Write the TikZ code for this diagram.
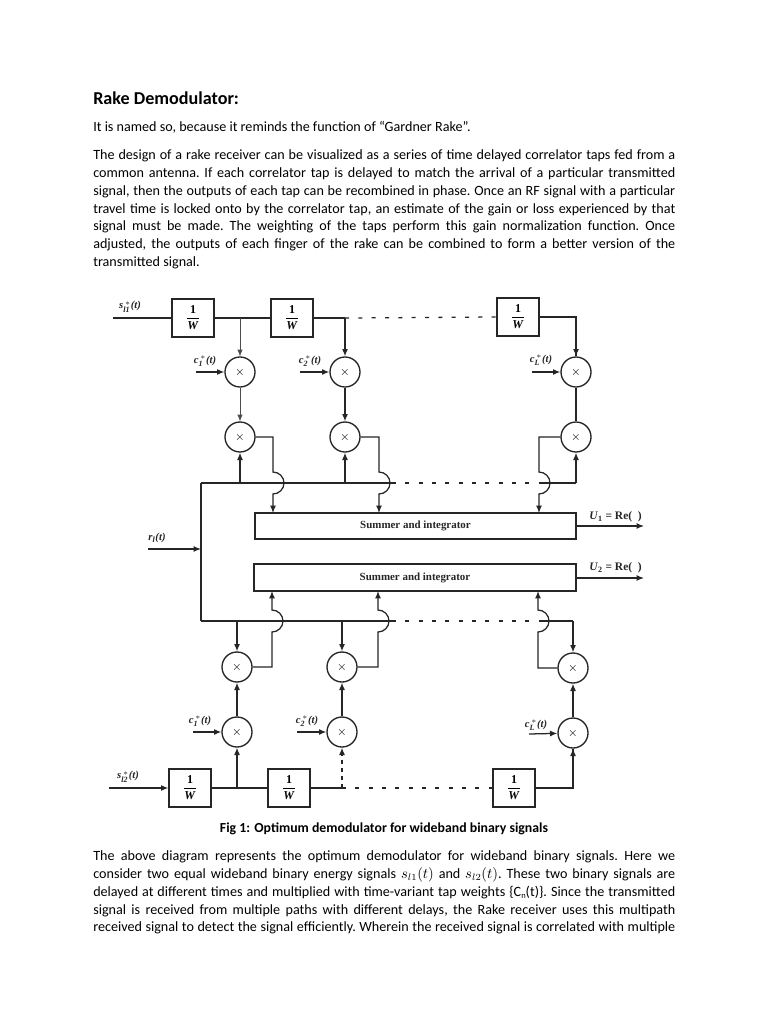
\documentclass[tikz,border=0pt]{standalone}
\usepackage{amsmath}
\usepackage{fontspec}
\setmainfont{Carlito}
\newfontfamily\scanfont{Liberation Serif}
\usetikzlibrary{arrows.meta}
\tikzset{
  x=0.75pt,y=-0.75pt,
  wire/.style={line width=0.95pt,draw=black!85},
  thinwire/.style={line width=0.5pt,draw=black!70,-{Latex[length=5pt,width=4pt]}},
  arr/.style={wire,-{Latex[length=5.5pt,width=4.5pt]}},
  dotted wire/.style={wire,dash pattern=on 3pt off 7pt},
  delay/.style={draw=black!85,line width=1pt,minimum width=31.5pt,minimum height=28.5pt,inner sep=0pt,font=\scanfont\bfseries\fontsize{9}{10}\selectfont},
  mult/.style={circle,draw=black!85,line width=1pt,minimum size=22.5pt,inner sep=0pt,font=\scanfont\fontsize{9}{9}\selectfont},
  summer/.style={draw=black!85,line width=1pt,inner sep=0pt,font=\scanfont\bfseries\fontsize{8.2}{9}\selectfont,text=black!85},
  lab/.style={inner sep=0pt,font=\scanfont\bfseries\itshape\fontsize{8}{9}\selectfont,text=black!85},
  ulab/.style={inner sep=0pt,anchor=west,font=\scanfont\bfseries\fontsize{8.6}{9}\selectfont,text=black!85},
  para/.style={anchor=base west,inner sep=0pt,font=\fontsize{10.6}{12}\selectfont\frenchspacing,text=black},
}
\newcommand{\jl}[1]{\makebox[436.5pt][s]{#1}}
\newcommand{\frW}{$\displaystyle\frac{\textbf{1}}{\textbf{\textit{W}}}$}
\newcommand{\sig}[2]{$\textbf{\textit{#1}}^{\,*}_{\textbf{\textit{#2}}}$(t)}
\begin{document}
\begin{tikzpicture}
\useasboundingbox (0,0) rectangle (768,1024);
\fill[white] (0,0) rectangle (768,1024);
% text
\node[para,font=\bfseries\fontsize{13.6}{15}\selectfont] (title) at (93,104) {Rake Demodulator:};
\node[para] (t0) at (93,132) {It is named so, because it reminds the function of “Gardner Rake”.};
\node[para] (t1) at (93,159) {\jl{The design of a rake receiver can be visualized as a series of time delayed correlator taps fed from a}};
\node[para] (t2) at (93,177) {\jl{common antenna. If each correlator tap is delayed to match the arrival of a particular transmitted}};
\node[para] (t3) at (93,195) {\jl{signal, then the outputs of each tap can be recombined in phase. Once an RF signal with a particular}};
\node[para] (t4) at (93,213) {\jl{travel time is locked onto by the correlator tap, an estimate of the gain or loss experienced by that}};
\node[para] (t5) at (93,230) {\jl{signal must be made. The weighting of the taps perform this gain normalization function. Once}};
\node[para] (t6) at (93,248) {\jl{adjusted, the outputs of each finger of the rake can be combined to form a better version of the}};
\node[para] (t7) at (93,266) {transmitted signal.};
\node[para,anchor=base,font=\bfseries\fontsize{10.35}{12}\selectfont] (cap) at (384,832) {Fig 1: Optimum demodulator for wideband binary signals};
\node[para] (b1) at (93,860) {\jl{The above diagram represents the optimum demodulator for wideband binary signals. Here we}};
\node[para] (b2) at (93,878) {\jl{consider two equal wideband binary energy signals $s_{l1}(t)$ and $s_{l2}(t)$. These two binary signals are}};
\node[para] (b3) at (93,896) {\jl{delayed at different times and multiplied with time-variant tap weights \{C\raisebox{-0.3ex}{\scalebox{0.6}{n}}(t)\}. Since the transmitted}};
\node[para] (b4) at (93,914) {\jl{signal is received from multiple paths with different delays, the Rake receiver uses this multipath}};
\node[para] (b5) at (93,931) {\jl{received signal to detect the signal efficiently. Wherein the received signal is correlated with multiple}};
% upper nodes
\node[delay] (d1) at (193,318) {\frW};
\node[delay] (d2) at (292,318) {\frW};
\node[delay] (d3) at (518,317) {\frW};
\node[mult] (m1) at (240,372) {$\times$};
\node[mult] (m2) at (345,372) {$\times$};
\node[mult] (m3) at (576,372) {$\times$};
\node[mult] (p1) at (240,437) {$\times$};
\node[mult] (p2) at (345,437) {$\times$};
\node[mult] (p3) at (576,437) {$\times$};
\node[summer,minimum width=240.75pt,minimum height=19.5pt] (s1) at (415.5,526) {Summer and integrator};
\node[summer,minimum width=241.5pt,minimum height=20.25pt] (s2) at (415,577.5) {Summer and integrator};
% lower nodes
\node[delay] (e1) at (190,788) {\frW};
\node[delay] (e2) at (289,788) {\frW};
\node[delay] (e3) at (514,788) {\frW};
\node[mult] (n1) at (237,732) {$\times$};
\node[mult] (n2) at (342,732) {$\times$};
\node[mult] (n3) at (573,733) {$\times$};
\node[mult] (q1) at (237,667) {$\times$};
\node[mult] (q2) at (342,667) {$\times$};
\node[mult] (q3) at (573,668) {$\times$};
% free ends
\coordinate (in1) at (113,318);
\coordinate (in2) at (109,788);
\coordinate (inr) at (148,549);
\coordinate (tl) at (201,483);
\coordinate (bl) at (201,621);
\coordinate (ml) at (201,549);
\coordinate (ct1) at (196,372);
\coordinate (ct2) at (300,372);
\coordinate (ct3) at (532,372);
\coordinate (cb1) at (193,732);
\coordinate (cb2) at (297,732);
\coordinate (cb3) at (529,734);
\coordinate (u1) at (644,526);
\coordinate (u2) at (644,578);
% labels
\node[lab] (ls1) at (130,307) {\sig{s}{l1}};
\node[lab] (ls2) at (128,777) {\sig{s}{l2}};
\node[lab] (lr) at (157,538) {$\textbf{\textit{r}}_{\textbf{\textit{l}}}$(t)};
\node[lab] (lc1) at (205,361) {\sig{c}{1}};
\node[lab] (lc2) at (310,361) {\sig{c}{2}};
\node[lab] (lc3) at (541,360) {\sig{c}{L}};
\node[lab] (ld1) at (200,721) {\sig{c}{1}};
\node[lab] (ld2) at (307,721) {\sig{c}{2}};
\node[lab] (ld3) at (536,725) {\sig{c}{L}};
\node[ulab] (lu1) at (589,517) {$\textbf{\textit{U}}_{\textbf{1}}$ = Re(\ \ )};
\node[ulab] (lu2) at (589,568) {$\textbf{\textit{U}}_{\textbf{2}}$ = Re(\ \ )};
% top line
\draw[wire] (in1) -- (d1.west);
\draw[wire] (d1.east) -- (d2.west);
\draw[thinwire] (d1.east -| m1) -- (m1.north);
\draw[wire] (d2.east) -- (d2.east -| m2);
\draw[arr] (d2.east -| m2) -- (m2.north);
\draw[dotted wire] (d2.east -| m2) -- (d3.west);
\draw[wire] (d3.east) -| (m3.north);
\draw[arr] (d3.east -| m3) -- (m3.north);
\draw[thinwire] (m1) -- (p1);
\foreach \a/\b in {ct1/m1,ct2/m2,ct3/m3,m2/p2,cb1/n1,cb2/n2,cb3/n3,n1/q1,n2/q2,n3/q3}
  \draw[arr] (\a) -- (\b);
\draw[wire] (m3) -- (p3);
% buses
\draw[arr] (inr) -- (ml);
\draw[wire] (tl) -- (bl);
\draw[wire] (tl) -- (392,483);
\draw[dotted wire] (392,483) -- (540,483);
\draw[wire] (540,483) -- (p3.south |- tl);
\draw[arr] (p3.south |- tl) -- (p3.south);
\draw[arr] (p1.south |- tl) -- (p1.south);
\draw[arr] (p2.south |- tl) -- (p2.south);
\draw[wire] (bl) -- (392,621);
\draw[dotted wire] (392,621) -- (540,621);
\draw[wire] (540,621) -- (q3.north |- bl);
\draw[arr] (q3.north |- bl) -- (q3.north);
\draw[arr] (q1.north |- bl) -- (q1.north);
\draw[arr] (q2.north |- bl) -- (q2.north);
% upper outputs with jumps
\draw[arr] (p1.east) -- (273,437) -- (273,472) arc[start angle=90,end angle=-90,x radius=11,y radius=-11] -- (273,513);
\draw[arr] (p2.east) -- (379,437) -- (379,472) arc[start angle=90,end angle=-90,x radius=11,y radius=-11] -- (379,513);
\draw[arr] (p3.west) -- (539,437) -- (539,472) arc[start angle=90,end angle=-90,x radius=11,y radius=-11] -- (539,513);
% lower outputs with jumps
\draw[arr] (q1.east) -- (272,667) -- (272,632) arc[start angle=-90,end angle=90,x radius=11,y radius=-11] -- (272,591);
\draw[arr] (q2.east) -- (378,667) -- (378,632) arc[start angle=-90,end angle=90,x radius=11,y radius=-11] -- (378,591);
\draw[arr] (q3.west) -- (538,668) -- (538,632) arc[start angle=-90,end angle=90,x radius=11,y radius=-11] -- (538,591);
% outputs
\draw[arr] (s1.east |- u1) -- (u1);
\draw[arr] (s2.east |- u2) -- (u2);
% bottom line
\draw[arr] (in2) -- (e1.west);
\draw[wire] (e1.east) -- (e2.west);
\draw[arr] (e1.east -| n1) -- (n1.south);
\draw[wire] (e2.east) -- (e2.east -| n2);
\draw[dotted wire] (e2.east -| n2) -- (e3.west);
\draw[wire,dash pattern=on 3pt off 3pt] (e2.east -| n2) -- (342,756);
\draw[arr] (342,756) -- (n2.south);
\draw[wire] (e3.east) -| (n3.south);
\draw[arr] (e3.east -| n3) -- (n3.south);
\end{tikzpicture}
\end{document}
